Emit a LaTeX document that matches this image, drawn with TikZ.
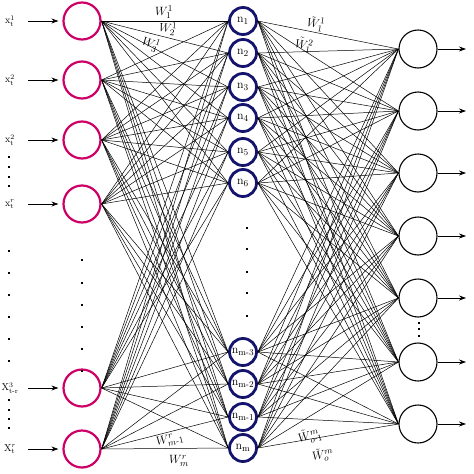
\documentclass[tikz,border=0pt]{standalone}
\usepackage{amsmath}
\usetikzlibrary{arrows.meta}
\definecolor{inpink}{RGB}{204,0,102}
\definecolor{hidnavy}{RGB}{20,20,110}

\begin{document}
\begin{tikzpicture}
[x=1pt,y=-1pt%
,inp/.style={circle,%
	draw=inpink,%
	line width=2.2pt,%
	minimum size=37pt,%
	inner sep=0pt}%
,hid/.style={circle,%
	draw=hidnavy,%
	line width=2.8pt,%
	minimum size=27pt,%
	inner sep=0pt,%
	font=\fontsize{13}{13}\selectfont}%
,outp/.style={circle,%
	draw=black,%
	line width=1.1pt,%
	minimum size=38pt,%
	inner sep=0pt}%
,wire/.style={line width=0.5pt}%
,lab/.style={font=\fontsize{13}{13}\selectfont,inner sep=0pt}%
,dot/.style={fill=black,inner sep=0pt,minimum size=2.6pt}]
\useasboundingbox (0,0) rectangle (474,474);
% input layer
\foreach \n/\y/\t in {1/21/{\mathrm{x}^{1}_{\mathrm{t}}},%
	2/80/{\mathrm{x}^{2}_{\mathrm{t}}},%
	3/140/{\mathrm{x}^{2}_{\mathrm{t}}},%
	4/204/{\mathrm{x}^{r}_{\mathrm{t}}},%
	5/388/{\mathrm{X}^{3}_{\mathrm{t}\text{-}\mathrm{r}}},%
	6/449/{\mathrm{X}^{r}_{\mathrm{t}}}}{
	\node[inp] (i\n) at (82,\y) {};
	\node[lab,font=\fontsize{10}{10}\selectfont] (xl\n) at (10,\y) {$\t$};
	\coordinate (xa\n) at (28,\y);
	\draw[-{Stealth[length=7pt,width=5pt]},line width=0.7pt,shorten >=4pt] (xa\n) -- (i\n.west);
}
% hidden layer
\foreach \n/\y/\t in {1/21/1,2/53/2,3/87/3,4/118/4,5/152/5,6/183/6,%
	7/352/m\text{-}3,8/384/m\text{-}2,9/417/m\text{-}1,10/448/m}{
	\node[hid] (h\n) at (243,\y) {$\mathrm{n}_{\mathrm{\t}}$};
}
% output layer
\foreach \n/\y in {1/49,2/111,3/173,4/236,5/298,6/362,7/424}{
	\node[outp] (o\n) at (418,\y) {};
	\coordinate (oa\n) at (466,\y);
	\draw[-{Stealth[length=7pt,width=5pt]},line width=0.7pt] (o\n.east) -- (oa\n);
}
% connections
\foreach \i in {1,...,6}
	\foreach \h in {1,...,10}
		\draw[wire] (i\i.east) -- (h\h.west);
\foreach \h in {1,...,10}
	\foreach \o in {1,...,7}
		\draw[wire] (h\h.east) -- (o\o.west);
% dots
\foreach \y in {157,167,177,186,251,273,295,317,339,361,400,410,419,428}
	\node[dot] at (9,\y) {};
\foreach \y in {260,283,305,327,349,371}
	\node[dot] at (82,\y) {};
\foreach \y in {228,249,272,293,316}
	\node[dot] at (247,\y) {};
\foreach \y in {323,329,336}
	\node[dot,minimum size=1.8pt] at (419,\y) {};
% weights
\node[lab] (w11) at (164,12) {$W^{1}_{1}$};
\node[lab,rotate=-5] (w21) at (168,29) {$W^{1}_{2}$};
\node[lab,rotate=-20] (w31) at (151,44) {$W^{1}_{3}$};
\node[lab,rotate=-8] (v11) at (316,24) {$\tilde{W}^{1}_{1}$};
\node[lab,rotate=-10] (v12) at (304,45) {$\tilde{W}^{2}_{1}$};
\node[lab,rotate=12] (wr1) at (170,440) {$W^{r}_{m\text{-}1}$};
\node[lab] (wr2) at (179,461) {$W^{r}_{m}$};
\node[lab,rotate=15] (vm1) at (310,436) {$\tilde{W}^{m}_{o\text{-}1}$};
\node[lab,rotate=10] (vm2) at (323,455) {$\tilde{W}^{m}_{o}$};
\end{tikzpicture}
\end{document}
